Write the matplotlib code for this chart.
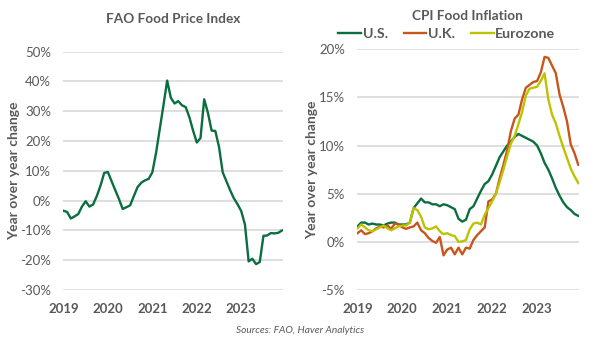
import matplotlib

matplotlib.use('Agg')

import matplotlib.pyplot as plt
import numpy as np

plt.rcParams['font.family'] = ['Lato', 'DejaVu Sans']

# monthly year-over-year changes, Jan 2019 - Dec 2023 (percent)
years = ['2019', '2020', '2021', '2022', '2023']

fao = [-3.4, -3.8, -6.0, -5.3, -4.5, -2.0, -0.2, -2.0, -1.3, 1.5, 5.0, 9.3,
       9.6, 6.5, 3.5, 0.5, -2.8, -2.2, -1.6, 1.5, 4.5, 6.0, 6.8, 7.3,
       9.5, 16.0, 24.0, 32.0, 40.3, 34.5, 32.6, 33.4, 32.0, 31.4, 28.0, 23.5,
       19.5, 21.0, 34.0, 29.5, 23.5, 23.4, 18.0, 9.5, 6.5, 3.5, 0.8, -1.2,
       -3.5, -8.0, -20.4, -19.5, -21.3, -20.6, -11.8, -11.7, -10.9, -11.0, -10.8, -10.0]

us = [1.6, 2.0, 2.0, 1.8, 1.9, 1.8, 1.8, 1.7, 1.9, 2.0, 2.0, 1.8,
      1.8, 1.8, 2.0, 3.5, 4.0, 4.5, 4.1, 4.1, 3.9, 3.9, 3.7, 3.9,
      3.8, 3.6, 3.4, 2.4, 2.1, 2.3, 3.4, 3.7, 4.5, 5.3, 6.0, 6.3,
      7.0, 7.9, 8.8, 9.4, 10.0, 10.4, 10.9, 11.2, 11.0, 10.8, 10.6, 10.4,
      10.0, 9.2, 8.2, 7.5, 6.6, 5.6, 4.8, 4.1, 3.6, 3.3, 2.9, 2.7]

uk = [0.9, 1.2, 0.8, 0.9, 1.1, 1.4, 1.6, 1.5, 1.7, 1.35, 1.9, 1.8,
      1.5, 1.35, 1.5, 1.6, 2.0, 1.2, 0.9, 0.4, 0.1, -0.1, 0.5, -1.4,
      -0.8, -0.6, -1.3, -0.6, -1.3, -0.6, -0.7, 0.2, 0.7, 1.1, 1.5, 4.2,
      4.4, 5.0, 6.6, 8.0, 9.5, 11.5, 12.8, 13.2, 14.8, 16.0, 16.3, 16.6,
      16.7, 17.6, 19.2, 19.1, 18.3, 17.5, 15.3, 14.0, 12.5, 10.1, 9.2, 8.0]

ez = [1.4, 1.8, 1.5, 1.2, 1.1, 1.3, 1.5, 1.7, 1.4, 1.2, 1.4, 1.6,
      1.7, 1.7, 2.0, 3.5, 3.3, 2.6, 1.5, 1.3, 1.4, 1.6, 1.1, 0.8,
      0.9, 0.7, 0.6, 0.0, 0.05, 0.2, 1.3, 1.9, 2.0, 1.8, 2.8, 3.5,
      4.2, 5.0, 6.2, 7.5, 8.9, 10.2, 11.0, 12.2, 13.5, 15.2, 15.9, 16.0,
      16.1, 16.7, 17.5, 14.8, 13.2, 12.3, 11.0, 9.8, 8.7, 7.6, 6.8, 6.1]

GREEN = '#0a6e3f'
ORANGE = '#c8561c'
OLIVE = '#bcc300'
GREY = '#595959'
GRID = '#d9d9d9'

months = np.arange(len(fao))

fig = plt.figure(figsize=(6, 3.49), dpi=100)
ax1 = fig.add_axes([0.1045, 0.169, 0.3667, 0.683])
ax2 = fig.add_axes([0.5945, 0.169, 0.3705, 0.690])


def style(ax, ticks, fmt):
    ax.set_yticks(ticks)
    ax.set_yticklabels([fmt(t) for t in ticks])
    ax.set_ylim(ticks[0], ticks[-1])
    ax.set_xlim(-0.2, 59.2)
    ax.set_xticks(np.arange(0, 60, 12))
    ax.set_xticklabels(years)
    ax.grid(axis='y', color=GRID, linewidth=1.2)
    ax.set_axisbelow(True)
    for s in ax.spines.values():
        s.set_visible(False)
    ax.tick_params(length=0, colors=GREY, labelsize=9.5)
    ax.tick_params(axis='y', pad=8.5)
    ax.tick_params(axis='x', pad=9)
    for lab in ax.get_xticklabels():
        lab.set_fontweight('bold')
    ax.set_ylabel('Year over year change', color=GREY, fontsize=10,
                  fontweight='bold')


style(ax1, np.arange(-30, 51, 10), lambda t: f'{t}%')
ax1.yaxis.set_label_coords(-0.192, 0.5)
ax1.plot(months, fao, color=GREEN, linewidth=1.7)
ax1.set_title('FAO Food Price Index', color=GREY, fontsize=9.8,
              fontweight='bold', pad=0, y=1.12)

style(ax2, np.arange(-5, 21, 5), lambda t: f'{t}%')
ax2.yaxis.set_label_coords(-0.172, 0.5)
ax2.plot(months, us, color=GREEN, linewidth=1.7, label='U.S.')
ax2.plot(months, uk, color=ORANGE, linewidth=1.7, label='U.K.')
ax2.plot(months, ez, color=OLIVE, linewidth=1.7, label='Eurozone')
ax2.set_title('CPI Food Inflation', color=GREY, fontsize=9.8,
              fontweight='bold', pad=0, y=1.12)
leg = ax2.legend(loc='center', bbox_to_anchor=(0.405, 1.063), ncol=3,
                 frameon=False, handlelength=1.6, handletextpad=0.1,
                 columnspacing=1.1, borderaxespad=0, borderpad=0,
                 prop={'size': 10.3, 'weight': 'bold'})
for t in leg.get_texts():
    t.set_color(GREY)

fig.text(0.5, 0.052, 'Sources: FAO, Haver Analytics', ha='center', va='center',
         color=GREY, fontsize=7.3, style='italic')

fig.savefig('out.png', dpi=100)
